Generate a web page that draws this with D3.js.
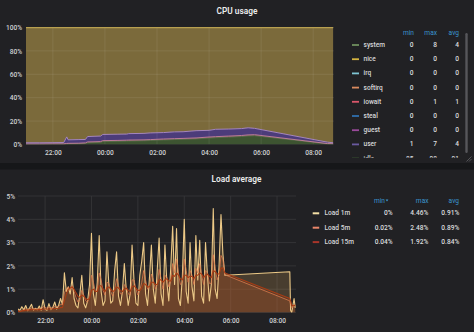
<!DOCTYPE html>
<html><head><meta charset="utf-8">
<script src="https://cdn.jsdelivr.net/npm/d3@7"></script>
<style>
html,body{margin:0;padding:0;background:#161719;}
svg{display:block;font-family:Roboto,"Helvetica Neue",Arial,sans-serif;}
</style></head><body>
<svg id="c" width="474" height="332"></svg>
<script>
// ---------- CPU usage data (percent) ----------
const cpuTimes  = ["20:58","21:30","22:00","22:25","22:32","22:35","23:00","23:15","23:20","23:50","23:55","00:30","00:50","00:55","01:30","01:45","02:15","02:40","03:00","03:30","04:00","04:15","04:45","05:15","05:30","05:45","08:33","08:46"];
const cpuSystem = [0.2,0.2,0.3,0.3,0.4,0.5,0.6,0.8,1.5,1.8,2.5,2.7,2.9,3.0,3.2,3.4,3.9,4.2,4.4,4.8,5.5,5.8,6.3,6.8,7.3,7.5,0.5,0.4];
const cpuIowait = [0.3,0.3,0.3,0.3,0.5,0.5,0.5,0.6,0.7,0.7,0.8,0.8,0.8,0.8,0.8,0.8,0.8,0.8,0.8,0.8,0.9,0.9,0.9,0.9,0.9,0.9,0.3,0.3];
const cpuUser   = [1.0,1.0,1.0,1.1,5.6,3.0,3.1,2.9,4.6,4.7,5.3,5.3,5.2,5.5,5.5,5.7,5.5,5.8,5.7,6.2,5.7,6.3,6.0,5.9,6.1,5.4,1.2,0.8];
const cpuYTicks = [0,20,40,60,80,100];

const cpuLegendNames = ["system","nice","irq","softirq","iowait","steal","guest","user","idle"];
const cpuLegendColors = ["#6f8f5f","#d4b440","#7fc6d4","#d98a5f","#d9566a","#2f6fae","#9a4a9a","#6a5aa0","#508642"];
const cpuLegendMin = ["0","0","0","0","0","0","0","1","85"];
const cpuLegendMax = ["8","0","0","0","1","0","0","7","98"];
const cpuLegendAvg = ["4","0","0","0","1","0","0","4","91"];

// ---------- Load average data (percent) ----------
const loadStart = "20:50";     // first sample, then one sample every 5 minutes up to 05:45
const loadStepMin = 5;
const loadLateTimes = ["08:33","08:35","08:38","08:41","08:44","08:47"];
const load1m = [
 0.15,0.10,0.25,0.12,0.30,0.08,0.20,0.35,0.10,0.18,
 0.12,0.28,0.10,0.55,0.15,0.10,0.38,0.12,0.22,0.45,
 0.15,0.30,0.60,0.35,1.70,0.90,1.10,0.80,1.50,0.60,
 0.30,0.20,0.80,1.60,0.40,0.20,0.50,1.20,3.40,0.80,
 0.30,1.30,3.30,0.90,0.30,0.50,2.60,1.20,0.40,0.50,
 1.80,2.60,0.70,0.30,0.90,2.10,1.00,0.30,0.80,2.90,
 1.40,0.40,0.30,1.60,2.20,3.00,0.80,0.30,1.50,2.90,
 1.00,0.40,1.80,3.20,0.80,0.30,2.90,1.30,0.50,1.90,
 3.70,1.20,3.60,0.60,0.30,1.50,4.00,0.90,0.40,3.00,
 1.10,0.50,3.30,1.40,3.10,0.70,0.40,3.00,1.60,0.50,
 1.20,4.46,1.00,0.60,2.00,4.20,2.50,1.60,
 1.75,0.10,0.00,0.30,0.60,0.20];
const load5m = [
 0.12,0.02,0.10,0.11,0.16,0.13,0.15,0.20,0.16,0.16,
 0.14,0.18,0.15,0.25,0.22,0.18,0.24,0.20,0.20,0.27,
 0.24,0.25,0.34,0.34,0.85,1.00,1.10,0.95,1.15,0.90,
 0.65,0.45,0.55,0.95,0.75,0.50,0.45,0.70,1.60,1.30,
 0.90,0.95,1.70,1.40,0.95,0.75,1.30,1.25,0.90,0.70,
 1.00,1.45,1.15,0.80,0.80,1.20,1.10,0.80,0.75,1.40,
 1.40,1.00,0.75,0.95,1.30,1.80,1.40,1.00,1.10,1.65,
 1.40,1.00,1.20,1.85,1.45,1.00,1.60,1.50,1.10,1.35,
 2.10,1.70,2.30,1.70,1.20,1.30,2.30,1.80,1.30,1.80,
 1.60,1.20,1.90,1.70,2.10,1.60,1.20,1.80,1.70,1.25,
 1.25,2.48,1.90,1.40,1.60,2.45,2.30,1.62,
 0.50,0.35,0.20,0.22,0.35,0.28];
const load15m = [
 0.06,0.04,0.07,0.08,0.10,0.10,0.11,0.13,0.12,0.12,
 0.12,0.13,0.12,0.15,0.15,0.14,0.16,0.15,0.15,0.17,
 0.17,0.18,0.21,0.22,0.50,0.80,1.00,1.05,1.10,1.00,
 0.85,0.70,0.65,0.75,0.70,0.60,0.55,0.60,0.95,1.00,
 0.90,0.90,1.15,1.15,1.00,0.90,1.05,1.10,1.00,0.90,
 0.95,1.10,1.05,0.95,0.90,1.00,1.05,0.95,0.90,1.10,
 1.15,1.05,0.95,0.95,1.05,1.25,1.20,1.10,1.10,1.30,
 1.30,1.20,1.20,1.40,1.40,1.30,1.40,1.45,1.35,1.35,
 1.60,1.55,1.70,1.60,1.45,1.40,1.60,1.60,1.50,1.55,
 1.55,1.45,1.60,1.60,1.70,1.65,1.50,1.60,1.65,1.55,
 1.50,1.80,1.75,1.65,1.65,1.90,1.92,1.70,
 0.60,0.50,0.32,0.28,0.30,0.30];
const loadYTicks = [0,1,2,3,4,5];
const loadLegendNames = ["Load 1m","Load 5m","Load 15m"];
const loadLegendColors = ["#f3dfa5","#e9866a","#a8352a"];
const loadLegendMin = ["0%","0.02%","0.04%"];
const loadLegendMax = ["4.46%","2.48%","1.92%"];
const loadLegendAvg = ["0.91%","0.89%","0.84%"];

// ---------- helpers ----------
function t(s){const [h,m]=s.split(":").map(Number);return new Date(2020,0,h<12?2:1,h,m);}
const fmt = d3.timeFormat("%H:%M");
const svg = d3.select("#c");
const W=474,H=332;
const TXT="#d0d1d3";

svg.append("rect").attr("width",W).attr("height",H).attr("fill","#161719");
svg.append("rect").attr("x",0).attr("y",0).attr("width",W).attr("height",163).attr("fill","#212124");
svg.append("rect").attr("x",0).attr("y",169.5).attr("width",W).attr("height",H-169.5).attr("fill","#212124");

const defs = svg.append("defs");

function title(txt,x,y){
  svg.append("text").attr("x",x).attr("y",y).attr("text-anchor","middle")
    .attr("dominant-baseline","central").attr("fill","#ececec")
    .attr("font-size",8.3).attr("font-weight",600).text(txt);
}
title("CPU usage",237,11.3);
title("Load average",236.5,179.3);

function styleAxis(g){
  g.select(".domain").remove();
  g.selectAll("text").attr("fill",TXT).attr("font-size",6.6).attr("font-weight",500)
    .attr("font-family","Roboto,Arial,sans-serif");
}

// ================= CPU panel =================
const xC = d3.scaleTime().domain([t("20:58"),t("08:48")]).range([26,334]);
const yC = d3.scaleLinear().domain([0,100]).range([144.5,27.5]);
const cpuRows = cpuTimes.map((s,i)=>({time:t(s),system:cpuSystem[i],iowait:cpuIowait[i],user:cpuUser[i],
   idle:100-cpuSystem[i]-cpuIowait[i]-cpuUser[i]}));
const cpuKeys=["system","iowait","user","idle"];
const cpuFill={system:"#3d5431",iowait:"#7d4a5c",user:"#4c3c7a",idle:"#7b6a3b"};
const cpuLine={system:"#587348",iowait:"#c7849f",user:"#ad8ccc",idle:"#b8a050"};
const stacked=d3.stack().keys(cpuKeys)(cpuRows);

defs.append("clipPath").attr("id","clipC").append("rect").attr("x",26).attr("y",27).attr("width",308).attr("height",117.5);
const gC = svg.append("g").attr("clip-path","url(#clipC)");
const areaC = d3.area().x(d=>xC(d.data.time)).y0(d=>yC(d[0])).y1(d=>yC(d[1]));
const lineC = d3.line().x(d=>xC(d.data.time)).y(d=>yC(d[1]));
stacked.forEach(s=>{
  gC.append("path").attr("d",areaC(s)).attr("fill",cpuFill[s.key]);
});
const cpuXTicks = xC.ticks(d3.timeHour.every(2));
cpuYTicks.forEach(v=>gC.append("line").attr("x1",26).attr("x2",334).attr("y1",yC(v)).attr("y2",yC(v))
   .attr("stroke","rgba(255,255,255,0.10)").attr("stroke-width",0.8));
cpuXTicks.forEach(d=>gC.append("line").attr("x1",xC(d)).attr("x2",xC(d)).attr("y1",27.5).attr("y2",144.5)
   .attr("stroke","rgba(255,255,255,0.10)").attr("stroke-width",0.8));
stacked.forEach(s=>{
  gC.append("path").attr("d",lineC(s)).attr("fill","none").attr("stroke",cpuLine[s.key])
    .attr("stroke-width",s.key==="idle"?1.3:0.9);
});

svg.append("g").attr("transform","translate(0,144.5)")
  .call(d3.axisBottom(xC).ticks(d3.timeHour.every(2)).tickFormat(fmt).tickSize(0).tickPadding(6.3))
  .call(styleAxis);
svg.append("g").attr("transform","translate(26,0)")
  .call(d3.axisLeft(yC).tickValues(cpuYTicks).tickFormat(d=>d+"%").tickSize(0).tickPadding(4))
  .call(styleAxis);

// CPU legend
const HDR="#3a95cf";
const lgC = svg.append("g");
defs.append("clipPath").attr("id","clipL").append("rect").attr("x",340).attr("y",22).attr("width",134).attr("height",135.8);
const lgCi = lgC.append("g").attr("clip-path","url(#clipL)");
[["min",414],["max",437],["avg",459]].forEach(([h,x])=>
  lgCi.append("text").attr("x",x).attr("y",32.5).attr("text-anchor","end").attr("dominant-baseline","central")
   .attr("fill",HDR).attr("font-size",6.6).text(h));
cpuLegendNames.forEach((n,i)=>{
  const y = 45 + i*14.2;
  lgCi.append("rect").attr("x",352).attr("y",y-0.9).attr("width",7).attr("height",1.8).attr("fill",cpuLegendColors[i]);
  lgCi.append("text").attr("x",363.5).attr("y",y).attr("dominant-baseline","central").attr("fill","#d6d7d9")
    .attr("font-size",6.6).attr("font-weight",500).text(n);
  [[cpuLegendMin[i],413.5],[cpuLegendMax[i],437],[cpuLegendAvg[i],459]].forEach(([v,x])=>
    lgCi.append("text").attr("x",x).attr("y",y).attr("text-anchor","end").attr("dominant-baseline","central")
     .attr("fill","#dcdddf").attr("font-size",6.6).attr("font-weight",500).text(v));
});
lgC.append("rect").attr("x",465.3).attr("y",33).attr("width",2.4).attr("height",120).attr("rx",1.2).attr("fill","#56565b");
lgC.append("path").attr("d","M466.5,161.5L471.5,156.5M469,161.5L471.5,159").attr("stroke","#6a6a6e").attr("stroke-width",0.7);

// ================= Load panel =================
const [lh,lm] = loadStart.split(":").map(Number);
const loadTimes = load1m.slice(0,load1m.length-loadLateTimes.length)
   .map((_,i)=>new Date(2020,0,1,lh,lm+loadStepMin*i)).concat(loadLateTimes.map(t));
const xL = d3.scaleTime().domain([t("20:50"),t("08:49")]).range([18,296]);
const yL = d3.scaleLinear().domain([0,5]).range([312.5,196]);
const gL0 = svg.append("g");
loadYTicks.forEach(v=>gL0.append("line").attr("x1",18).attr("x2",296).attr("y1",yL(v)).attr("y2",yL(v))
   .attr("stroke","#38383b").attr("stroke-width",0.8));
xL.ticks(d3.timeHour.every(2)).forEach(d=>gL0.append("line").attr("x1",xL(d)).attr("x2",xL(d)).attr("y1",196).attr("y2",312.5)
   .attr("stroke","#38383b").attr("stroke-width",0.8));
defs.append("clipPath").attr("id","clipLd").append("rect").attr("x",18).attr("y",190).attr("width",278).attr("height",122.5);
const gL = svg.append("g").attr("clip-path","url(#clipLd)");
const series = [
  {name:"1m",vals:load1m,line:"#ecc987",fill:"#e8b060",fo:0.2,w:1.1},
  {name:"5m",vals:load5m,line:"#dc7a4c",fill:"#d8703a",fo:0.16,w:0.8},
  {name:"15m",vals:load15m,line:"#a83c14",fill:"#a03a12",fo:0.2,w:1.1}
];
const areaL = d3.area().x((d,i)=>xL(loadTimes[i])).y0(yL(0)).y1(d=>yL(d));
const lineL = d3.line().x((d,i)=>xL(loadTimes[i])).y(d=>yL(d));
series.forEach(s=>gL.append("path").attr("d",areaL(s.vals)).attr("fill",s.fill).attr("fill-opacity",s.fo));
series.forEach(s=>gL.append("path").attr("d",lineL(s.vals)).attr("fill","none").attr("stroke",s.line)
   .attr("stroke-width",s.w).attr("stroke-linejoin","round"));

svg.append("g").attr("transform","translate(0,312.5)")
  .call(d3.axisBottom(xL).ticks(d3.timeHour.every(2)).tickFormat(fmt).tickSize(0).tickPadding(5.8))
  .call(styleAxis);
svg.append("g").attr("transform","translate(18,0)")
  .call(d3.axisLeft(yL).tickValues(loadYTicks).tickFormat(d=>d+"%").tickSize(0).tickPadding(3))
  .call(styleAxis);

// Load legend
const lgL = svg.append("g");
lgL.append("text").attr("x",385).attr("y",200.5).attr("text-anchor","end").attr("dominant-baseline","central")
  .attr("fill",HDR).attr("font-size",6.6).text("min");
lgL.append("path").attr("d","M385.6,199.6L388.4,199.6L387,201.6Z").attr("fill",HDR);
[["max",428.5],["avg",459]].forEach(([h,x])=>
  lgL.append("text").attr("x",x).attr("y",200.5).attr("text-anchor","end").attr("dominant-baseline","central")
   .attr("fill",HDR).attr("font-size",6.6).text(h));
loadLegendNames.forEach((n,i)=>{
  const y = 213.3 + i*14.4;
  lgL.append("rect").attr("x",312.7).attr("y",y-1).attr("width",6.5).attr("height",2).attr("fill",loadLegendColors[i]);
  lgL.append("text").attr("x",324.5).attr("y",y).attr("dominant-baseline","central").attr("fill","#d6d7d9")
    .attr("font-size",6.6).attr("font-weight",500).text(n);
  [[loadLegendMin[i],392.7],[loadLegendMax[i],428.3],[loadLegendAvg[i],459.3]].forEach(([v,x])=>
    lgL.append("text").attr("x",x).attr("y",y).attr("text-anchor","end").attr("dominant-baseline","central")
     .attr("fill","#dcdddf").attr("font-size",6.6).attr("font-weight",500).text(v));
});
</script></body></html>
